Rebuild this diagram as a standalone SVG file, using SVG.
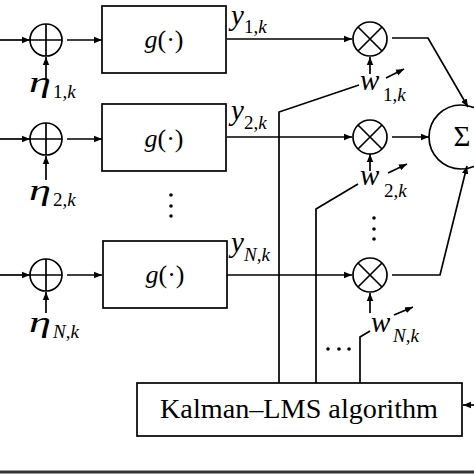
<svg xmlns="http://www.w3.org/2000/svg" width="474" height="474" viewBox="0 0 474 474">
<defs>
<marker id="ah" viewBox="0 0 10 10" refX="10" refY="5" markerWidth="8" markerHeight="8" markerUnits="userSpaceOnUse" orient="auto">
<path d="M0,1 L10,5 L0,9 Z" fill="#000"/>
</marker>
<style>
.s{fill:none;stroke:#000;stroke-width:1.7}
.a{fill:none;stroke:#000;stroke-width:1.7;marker-end:url(#ah)}
.t{font-family:"Liberation Serif","Times New Roman",serif;fill:#000}
.i{font-style:italic}
.g{font-size:26px}
.m{font-size:29px}
.e{font-size:29px}
.sb{font-size:19px}
</style>
</defs>
<rect width="474" height="474" fill="#fff"/>

<g id="connectors">
<line class="a" x1="0" y1="40" x2="30" y2="40"/>
<line class="a" x1="0" y1="139" x2="30" y2="139"/>
<line class="a" x1="0" y1="275" x2="30" y2="275"/>
<line class="a" x1="46" y1="80" x2="46" y2="57"/>
<line class="a" x1="46" y1="180" x2="46" y2="156"/>
<line class="a" x1="46" y1="313" x2="46" y2="292"/>
<line class="a" x1="67" y1="40" x2="102" y2="40"/>
<line class="a" x1="67" y1="139" x2="102" y2="139"/>
<line class="a" x1="67" y1="275" x2="102" y2="275"/>
<line class="a" x1="227" y1="39" x2="352" y2="39"/>
<line class="a" x1="227" y1="137" x2="352" y2="137"/>
<line class="a" x1="227" y1="275" x2="352" y2="275"/>
<polyline class="a" points="392,38 428,38 468,107"/>
<line class="a" x1="392" y1="137" x2="429" y2="137"/>
<polyline class="a" points="392,275 440,275 467,166"/>
<polyline class="s" points="279,383 279,112 359,85"/>
<line class="a" x1="386" y1="78" x2="404" y2="69"/>
<line class="a" x1="370" y1="74" x2="370" y2="57"/>
<polyline class="s" points="316,383 316,209 358,184"/>
<line class="a" x1="388" y1="173" x2="407" y2="164"/>
<line class="a" x1="370" y1="171" x2="370" y2="154"/>
<polyline class="s" points="360,383 360,337 370,331"/>
<line class="a" x1="394" y1="315" x2="413" y2="307"/>
<line class="a" x1="370" y1="313" x2="370" y2="293"/>
<line class="a" x1="474" y1="405" x2="463" y2="405"/>
</g>

<g id="adder1"><circle class="s" cx="46" cy="40" r="16"/><path class="s" d="M30,40 H62 M46,24 V56"/></g>
<g id="adder2"><circle class="s" cx="46" cy="139" r="16"/><path class="s" d="M30,139 H62 M46,123 V155"/></g>
<g id="adderN"><circle class="s" cx="46" cy="275" r="16"/><path class="s" d="M30,275 H62 M46,259 V291"/></g>

<g id="eta1" class="t"><text x="29" y="92" class="i e" textLength="22" lengthAdjust="spacingAndGlyphs">η</text><text x="53" y="98" class="sb">1,<tspan class="i">k</tspan></text></g>
<g id="eta2" class="t"><text x="29" y="200" class="i e" textLength="22" lengthAdjust="spacingAndGlyphs">η</text><text x="53" y="206" class="sb">2,<tspan class="i">k</tspan></text></g>
<g id="etaN" class="t"><text x="29" y="332" class="i e" textLength="22" lengthAdjust="spacingAndGlyphs">η</text><text x="53" y="338" class="sb"><tspan class="i">N</tspan>,<tspan class="i">k</tspan></text></g>

<g id="g1"><rect class="s" x="102" y="6" width="124" height="67"/><text class="t g" x="164" y="48" text-anchor="middle"><tspan class="i">g</tspan>(·)</text></g>
<g id="g2"><rect class="s" x="102" y="104" width="124" height="67"/><text class="t g" x="164" y="147" text-anchor="middle"><tspan class="i">g</tspan>(·)</text></g>
<g id="gN"><rect class="s" x="103" y="241" width="124" height="67"/><text class="t g" x="165" y="283" text-anchor="middle"><tspan class="i">g</tspan>(·)</text></g>

<g id="vdots-left" fill="#000"><circle cx="171" cy="195" r="1.8"/><circle cx="171" cy="206" r="1.8"/><circle cx="171" cy="216" r="1.8"/></g>

<g id="y1" class="t"><text x="231" y="25" class="i m">y</text><text x="244" y="33" class="sb">1,<tspan class="i">k</tspan></text></g>
<g id="y2" class="t"><text x="231" y="120" class="i m">y</text><text x="244" y="129" class="sb">2,<tspan class="i">k</tspan></text></g>
<g id="yN" class="t"><text x="231" y="252" class="i m">y</text><text x="244" y="261" class="sb"><tspan class="i">N</tspan>,<tspan class="i">k</tspan></text></g>

<g id="mult1"><circle class="s" cx="370" cy="39" r="17"/><path class="s" d="M358,27 L382,51 M382,27 L358,51"/></g>
<g id="mult2"><circle class="s" cx="370" cy="137" r="17"/><path class="s" d="M358,125 L382,149 M382,125 L358,149"/></g>
<g id="multN"><circle class="s" cx="370" cy="275" r="17"/><path class="s" d="M358,263 L382,287 M382,263 L358,287"/></g>

<g id="w1" class="t"><text x="360" y="90" class="i m">w</text><text x="383" y="101" class="sb">1,<tspan class="i">k</tspan></text></g>
<g id="w2" class="t"><text x="360" y="185" class="i m">w</text><text x="384" y="197" class="sb">2,<tspan class="i">k</tspan></text></g>
<g id="wN" class="t"><text x="371" y="332" class="i m">w</text><text x="393" y="342" class="sb"><tspan class="i">N</tspan>,<tspan class="i">k</tspan></text></g>

<g id="vdots-right" fill="#000"><circle cx="374" cy="218" r="1.8"/><circle cx="374" cy="229" r="1.8"/><circle cx="374" cy="239" r="1.8"/></g>
<g id="hdots" fill="#000"><circle cx="328" cy="349" r="1.8"/><circle cx="339" cy="349" r="1.8"/><circle cx="349" cy="349" r="1.8"/></g>

<g id="sum"><circle class="s" cx="461" cy="137" r="32"/><text class="t" x="462" y="146" font-size="29" text-anchor="middle">Σ</text></g>

<g id="kalman"><rect class="s" x="137" y="383" width="325" height="53"/><text class="t" x="299" y="418" font-size="27" text-anchor="middle" textLength="278" lengthAdjust="spacingAndGlyphs">Kalman–LMS algorithm</text></g>

<line x1="0" y1="472" x2="474" y2="472" stroke="#333" stroke-width="3"/>
</svg>
